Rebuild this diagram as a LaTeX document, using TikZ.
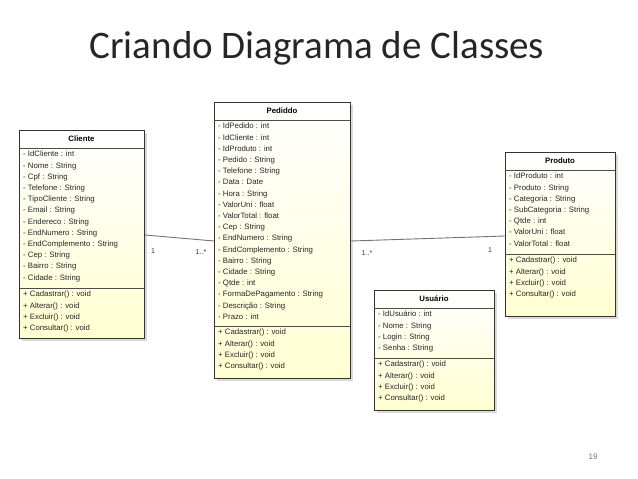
\documentclass[tikz,border=0pt]{standalone}
\usepackage{fontspec}
\setmainfont{Liberation Sans}
\newfontfamily\titlefont{Carlito}
\usetikzlibrary{shadows}
\begin{document}
\begin{tikzpicture}[x=1pt,y=-1pt,
  cls/.style={draw=black!80,line width=1pt,anchor=north west,inner sep=0pt,top color=white,bottom color=yellow!18,drop shadow={shadow xshift=2pt,shadow yshift=-2pt,opacity=0.3}},
  ttl/.style={font=\fontsize{7.8}{9}\selectfont\bfseries,anchor=center},
  lst/.style={font=\fontsize{7.8}{11.2}\selectfont,anchor=north west,align=left,inner sep=0pt,text=black!85},
  sep/.style={draw=black!70,line width=0.6pt},
  assoc/.style={draw=black!55,line width=0.9pt},
  mult/.style={font=\fontsize{7}{8}\selectfont,text=black!80}]
\useasboundingbox (0,0) rectangle (638,479);
\node[anchor=west,font=\titlefont\fontsize{39}{44}\selectfont,text=black!85] (title) at (86,48) {Criando Diagrama de Classes};
\node[text=black!55,font=\fontsize{8}{9}\selectfont] (pg) at (593,457) {19};
% Cliente
\node[cls,minimum width=125pt,minimum height=208pt] (cli) at (19,130) {};
\node[ttl] at (81.5,139) {Cliente};
\draw[sep] (19,148) -- (144,148);
\draw[sep] (19,288) -- (144,288);
\node[lst] (clia) at (23,151) {- IdCliente : int\\- Nome : String\\- Cpf : String\\- Telefone : String\\- TipoCliente : String\\- Email : String\\- Endereco : String\\- EndNumero : String\\- EndComplemento : String\\- Cep : String\\- Bairro : String\\- Cidade : String};
\node[lst] (clim) at (23,291) {+ Cadastrar() : void\\+ Alterar() : void\\+ Excluir() : void\\+ Consultar() : void};
% Pedido
\node[cls,minimum width=136pt,minimum height=276pt] (ped) at (214,102) {};
\node[ttl] at (282,111) {Pediddo};
\draw[sep] (214,120) -- (350,120);
\draw[sep] (214,326) -- (350,326);
\node[lst] (peda) at (218,123) {- IdPedido : int\\- IdCliente : int\\- IdProduto : int\\- Pedido : String\\- Telefone : String\\- Data : Date\\- Hora : String\\- ValorUni : float\\- ValorTotal : float\\- Cep : String\\- EndNumero : String\\- EndComplemento : String\\- Bairro : String\\- Cidade : String\\- Qtde : int\\- FormaDePagamento : String\\- Descrição : String\\- Prazo : int};
\node[lst] (pedm) at (218,329) {+ Cadastrar() : void\\+ Alterar() : void\\+ Excluir() : void\\+ Consultar() : void};
% Produto
\node[cls,minimum width=110pt,minimum height=164pt] (pro) at (505,152) {};
\node[ttl] at (560,161) {Produto};
\draw[sep] (505,170) -- (615,170);
\draw[sep] (505,254) -- (615,254);
\node[lst] (proa) at (509,173) {- IdProduto : int\\- Produto : String\\- Categoria : String\\- SubCategoria : String\\- Qtde : int\\- ValorUni : float\\- ValorTotal : float};
\node[lst] (prom) at (509,257) {+ Cadastrar() : void\\+ Alterar() : void\\+ Excluir() : void\\+ Consultar() : void};
% Usuario
\node[cls,minimum width=120pt,minimum height=120pt] (usu) at (374,290) {};
\node[ttl] at (434,299) {Usuário};
\draw[sep] (374,308) -- (494,308);
\draw[sep] (374,358) -- (494,358);
\node[lst] (usua) at (378,311) {- IdUsuário : int\\- Nome : String\\- Login : String\\- Senha : String};
\node[lst] (usum) at (378,361) {+ Cadastrar() : void\\+ Alterar() : void\\+ Excluir() : void\\+ Consultar() : void};
% associations
\draw[assoc] (cli.east |- 0,235) -- (ped.west |- 0,241);
\draw[assoc] (ped.east |- 0,241) -- (pro.west |- 0,236);
\node[mult] at (153,251) {1};
\node[mult] at (201,252) {1..*};
\node[mult] at (367,253) {1..*};
\node[mult] at (490,250) {1};
\end{tikzpicture}
\end{document}
